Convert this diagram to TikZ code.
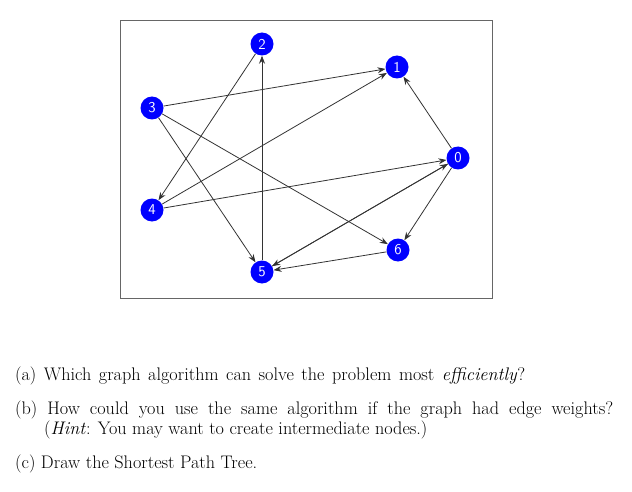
\documentclass[tikz,border=0pt]{standalone}
\usetikzlibrary{arrows.meta}
\begin{document}
\begin{tikzpicture}[x=1pt,y=-1pt,
  vtx/.style={circle,fill=blue,minimum size=23pt,inner sep=0pt,text=white,font=\sffamily\fontsize{15}{15}\selectfont},
  arc/.style={-{Stealth[length=8pt,width=6pt]},draw=black!80,line width=0.8pt},
  itm/.style={anchor=base west,inner sep=0pt,font=\fontsize{18.2}{20}\selectfont}]
\useasboundingbox (0,0) rectangle (632,492);
\draw[black!60,line width=0.8pt] (120,20) rectangle (492,298);
\node[vtx] (n0) at (458,158) {0};
\node[vtx] (n1) at (397,67) {1};
\node[vtx] (n2) at (262,44) {2};
\node[vtx] (n3) at (152,108) {3};
\node[vtx] (n4) at (152,210) {4};
\node[vtx] (n5) at (262,272) {5};
\node[vtx] (n6) at (398,250) {6};
\draw[arc] (n0) -- (n1);
\draw[arc] (n0) -- (n6);
\draw[arc] (n0) -- (n5);
\draw[arc] (n5) -- (n0);
\draw[arc] (n2) -- (n4);
\draw[arc] (n3) -- (n1);
\draw[arc] (n3) -- (n5);
\draw[arc] (n3) -- (n6);
\draw[arc] (n4) -- (n1);
\draw[arc] (n4) -- (n0);
\draw[arc] (n5) -- (n2);
\draw[arc] (n6) -- (n5);
\node[itm] (ta) at (15,380) {\hbox to 510pt{(a) Which graph algorithm can solve the problem most \emph{efficiently}?}};
\node[itm] (tb) at (15,414) {\hbox to 598pt{(b) How could you use the same algorithm if the graph had edge weights?}};
\node[itm] (tb2) at (44,434) {(\emph{Hint}: You may want to create intermediate nodes.)};
\node[itm] (tc) at (15,468) {(c) Draw the Shortest Path Tree.};
\end{tikzpicture}
\end{document}
